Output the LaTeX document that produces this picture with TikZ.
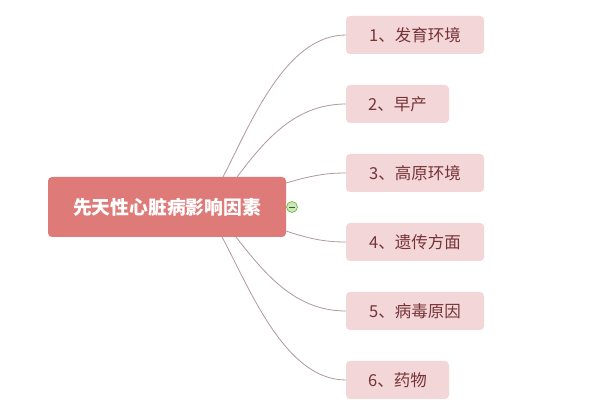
\documentclass[tikz,border=0pt]{standalone}
\usepackage{fontspec}
\setmainfont{Noto Sans CJK SC}
\begin{document}
\begin{tikzpicture}[x=1pt,y=-1pt,
  mainbox/.style={fill=mainred,rounded corners=4pt,minimum width=238pt,minimum height=60pt,inner sep=0pt,text=white,font=\fontsize{18.8}{20}\selectfont\bfseries},
  childbox/.style={fill=childpink,rounded corners=4pt,minimum height=38pt,inner sep=0pt,text=childtext,font=\fontsize{16.5}{18}\selectfont},
  wide/.style={minimum width=138pt},
  narrow/.style={minimum width=103pt},
  link/.style={draw=linkcol,line width=0.8pt}]
\definecolor{mainred}{HTML}{DE7B79}
\definecolor{childpink}{HTML}{F3D6D7}
\definecolor{childtext}{HTML}{763437}
\definecolor{linkcol}{HTML}{B09A9B}
\definecolor{btnfill}{HTML}{C8EAB0}
\definecolor{btnline}{HTML}{6DB04A}
\useasboundingbox (0,0) rectangle (597,411);
\fill[white] (0,0) rectangle (597,411);
% connector start points
\coordinate (s1) at (223,177);
\coordinate (s2) at (237,177);
\coordinate (s3) at (286,183);
\coordinate (s4) at (286,231);
\coordinate (s5) at (236,237);
\coordinate (s6) at (222,237);
% connectors
\draw[link] (s1) .. controls (250,125) and (285,35) .. (346,35) coordinate (e1);
\draw[link] (s2) .. controls (265,140) and (295,104) .. (346,104) coordinate (e2);
\draw[link] (s3) .. controls (310,176) and (325,173) .. (346,173) coordinate (e3);
\draw[link] (s4) .. controls (310,239) and (325,242) .. (346,242) coordinate (e4);
\draw[link] (s5) .. controls (265,274) and (295,311) .. (346,311) coordinate (e5);
\draw[link] (s6) .. controls (250,289) and (285,380) .. (346,380) coordinate (e6);
% nodes
\node[mainbox] (m) at (167,207) {先天性心脏病影响因素};
\node[childbox,wide] (c1) at (415,35) {1、发育环境};
\node[childbox,narrow] (c2) at (397.5,104) {2、早产};
\node[childbox,wide] (c3) at (415,173) {3、高原环境};
\node[childbox,wide] (c4) at (415,242) {4、遗传方面};
\node[childbox,wide] (c5) at (415,311) {5、病毒原因};
\node[childbox,narrow] (c6) at (397.5,380) {6、药物};
% collapse button
\node[circle,draw=btnline,fill=btnfill,line width=0.6pt,minimum size=11pt,inner sep=0pt] (btn) at (292,207) {};
\draw[black!70,line width=0.8pt] ([xshift=-3pt]btn.center) -- ([xshift=3pt]btn.center);
\end{tikzpicture}
\end{document}
